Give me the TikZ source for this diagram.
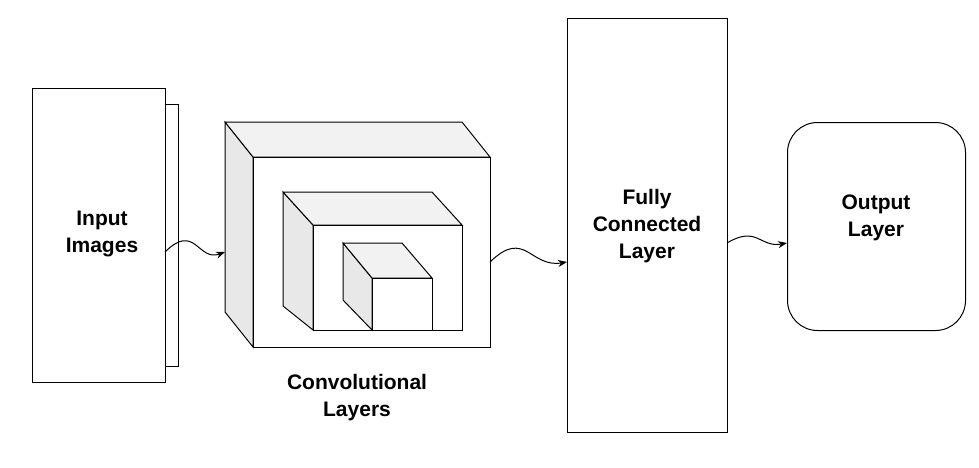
\documentclass[tikz,border=0pt]{standalone}
\usepackage{fontspec}
\setmainfont{Liberation Sans}
\usetikzlibrary{arrows.meta}
\begin{document}
\begin{tikzpicture}[x=1pt,y=-1pt,
  box/.style={draw=black,line width=1pt,fill=white},
  top/.style={draw=black,line width=1pt,fill=gray!10},
  side/.style={draw=black,line width=1pt,fill=gray!18},
  lbl/.style={font=\fontsize{21}{27}\selectfont\bfseries,align=center},
  wave/.style={line width=1pt,-{Stealth[length=9pt,width=7pt]}}]
\useasboundingbox (0,0) rectangle (979,467);
% input images
\draw[box] (165,104) rectangle (178,366);
\node[box,minimum width=133pt,minimum height=294pt,anchor=north west,inner sep=0pt] (in) at (32,88) {};
\node[lbl] (inl) at (102,234) {Input\\Images};
% conv big cube
\draw[side] (225,122) -- (253,157) -- (253,347) -- (225,312) -- cycle;
\draw[top] (225,122) -- (462,122) -- (490,157) -- (253,157) -- cycle;
\node[box,minimum width=237pt,minimum height=190pt,anchor=north west,inner sep=0pt] (conv) at (253,157) {};
% middle cube
\draw[side] (283,192) -- (313,225) -- (313,330) -- (283,306) -- cycle;
\draw[top] (283,192) -- (432,192) -- (462,225) -- (313,225) -- cycle;
\draw[box] (313,225) rectangle (462,330);
% small cube
\draw[side] (343,243) -- (372,278) -- (372,330) -- (343,300) -- cycle;
\draw[top] (343,243) -- (402,243) -- (432,278) -- (372,278) -- cycle;
\draw[box] (372,278) rectangle (432,330);
\node[lbl] (convl) at (357,398) {Convolutional\\Layers};
% fully connected
\node[box,minimum width=160pt,minimum height=414pt,anchor=north west,inner sep=0pt] (fc) at (567,18) {};
\node[lbl] (fcl) at (647,226) {Fully\\Connected\\Layer};
% output
\node[box,rounded corners=30pt,minimum width=178pt,minimum height=208pt,anchor=north west,inner sep=0pt] (out) at (787,122) {};
\node[lbl] (outl) at (876,218) {Output\\Layer};
% connectors
\coordinate (a1) at (165,252); \coordinate (a2) at (225,252);
\coordinate (b1) at (490,262); \coordinate (b2) at (567,262);
\coordinate (c1) at (727,243); \coordinate (c2) at (787,243);
\draw[wave] (a1) .. controls (195,222) and (198,262) .. (a2);
\draw[wave] (b1) .. controls (525,228) and (530,268) .. (b2);
\draw[wave] (c1) .. controls (757,225) and (760,248) .. (c2);
\end{tikzpicture}
\end{document}
